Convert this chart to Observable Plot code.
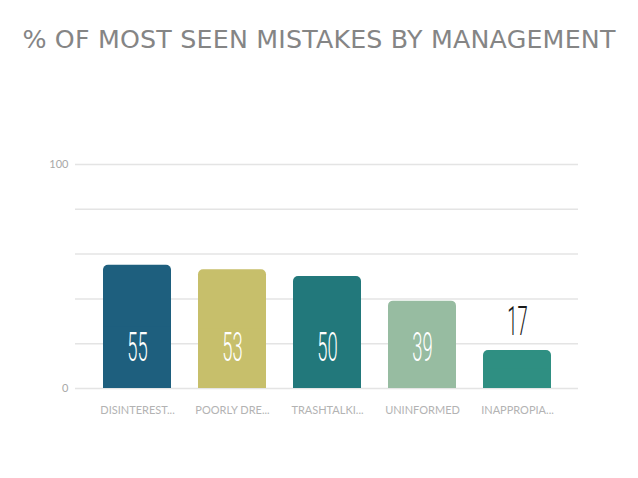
<!DOCTYPE html>
<html>
<head>
<meta charset="utf-8">
<script src="https://cdn.jsdelivr.net/npm/d3@7"></script>
<script src="https://cdn.jsdelivr.net/npm/@observablehq/plot@0.6"></script>
<style>
  body { margin: 0; background: #fff; width: 638px; height: 478px; overflow: hidden; }
  #title { height: 80px; line-height: 80px; text-align: center; font-family: "DejaVu Sans", sans-serif; font-size: 25.3px; color: #858585; letter-spacing: 0.2px; }
</style>
</head>
<body>
<div id="title">% OF MOST SEEN MISTAKES BY MANAGEMENT</div>
<div id="chart"></div>
<script>
const categories = ["DISINTEREST...", "POORLY DRE...", "TRASHTALKI...", "UNINFORMED", "INAPPROPIA..."];
const values = [55, 53, 50, 39, 17];
const colors = ["#1e5f7e", "#c7bf6b", "#22787b", "#97bca1", "#2f8f82"];
const gridTicks = [0, 20, 40, 60, 80, 100];
const axisTicks = [0, 100];

const data = categories.map((c, i) => ({category: c, value: values[i], color: colors[i]}));
const inside = data.filter(d => d.value >= 25);
const outside = data.filter(d => d.value < 25);

const chart = Plot.plot({
  width: 638,
  height: 398,
  marginTop: 84,
  marginBottom: 90,
  marginLeft: 75,
  marginRight: 60,
  x: {domain: categories, range: [89.5, 564.5], paddingInner: 0.28, paddingOuter: 0.14, label: null},
  y: {domain: [0, 100], label: null},
  style: {fontFamily: "Lato, sans-serif", background: "#fff"},
  marks: [
    Plot.ruleY(gridTicks, {stroke: "#e4e4e4", strokeWidth: 1.5}),
    Plot.axisY(axisTicks, {tickSize: 0, tickPadding: 7, fontSize: 11, color: "#a8a8a8", label: null}),
    Plot.axisX({tickSize: 0, tickPadding: 18, fontSize: 11, color: "#b3b3b3", label: null}),
    Plot.barY(data, {x: "category", y: "value", fill: "color", rx: 5}),
    Plot.barY(data, {x: "category", y1: 0, y2: d => d.value / 2, fill: "color"}),
    Plot.text(inside, {x: "category", y: 0, dy: -40, text: d => String(d.value), fill: "#fff", fontSize: 40, fontWeight: 300, fontFamily: "Roboto", className: "vlabel"}),
    Plot.text(outside, {x: "category", y: "value", dy: -28, text: d => String(d.value), fill: "#1a1a1a", fontSize: 40, fontWeight: 300, fontFamily: "Roboto", className: "vlabel"})
  ]
});
document.getElementById("chart").appendChild(chart);
// condense value labels horizontally (like the reference's narrow numerals)
chart.querySelectorAll(".vlabel text").forEach(el => {
  const t = el.getAttribute("transform") || "";
  el.setAttribute("transform", `${t} scale(0.46,1)`);
});
</script>
</body>
</html>
